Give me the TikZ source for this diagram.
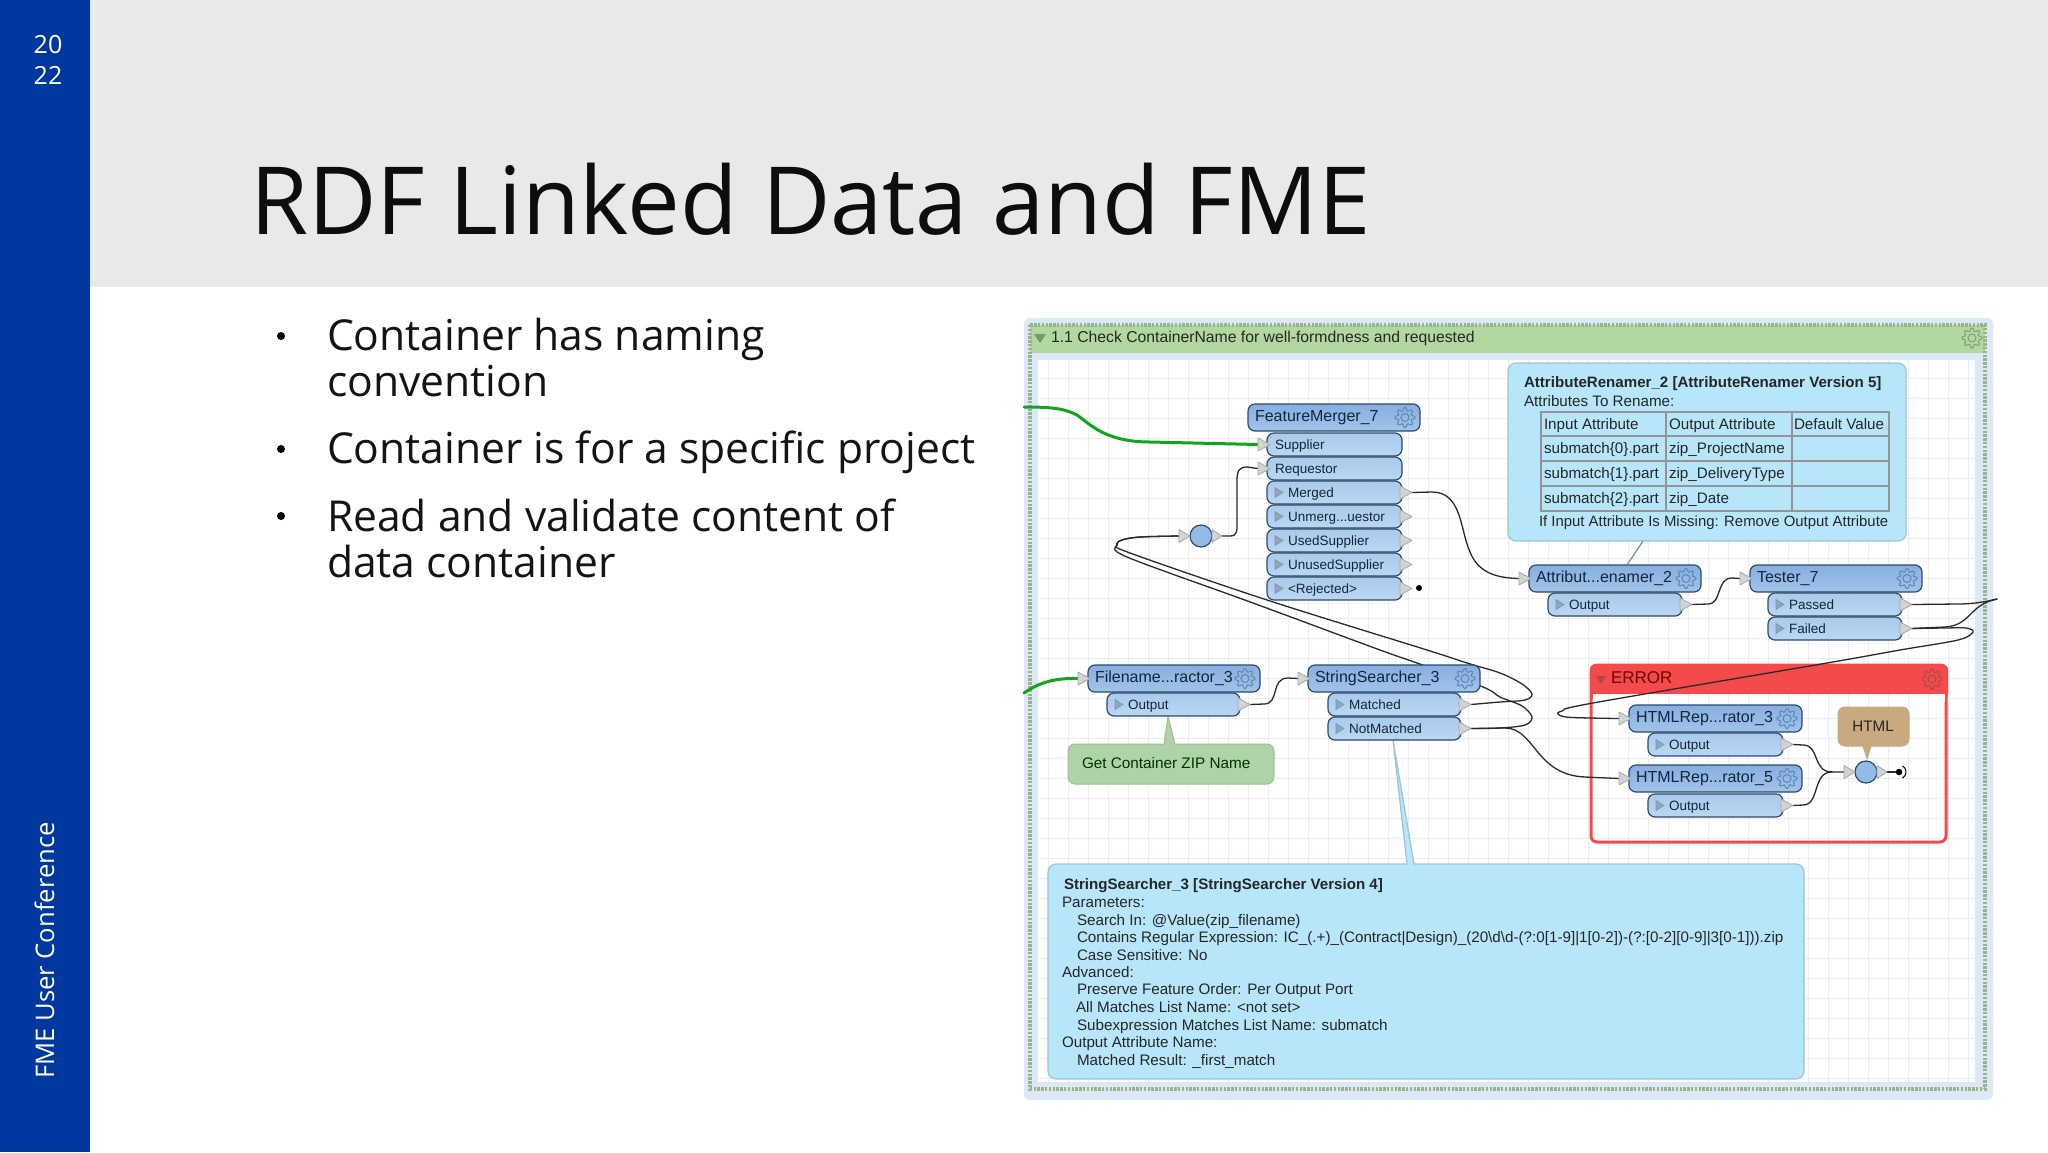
\documentclass[tikz,border=0pt]{standalone}
\usepackage{fontspec}
\setmainfont{Open Sans}
\newfontfamily\arial{Liberation Sans}
\pgfdeclarelayer{panel}
\pgfdeclarelayer{wires}
\pgfsetlayers{panel,wires,main}
\definecolor{sidebar}{HTML}{0038A0}
\definecolor{headgrey}{HTML}{E8E9E8}
\definecolor{panelblue}{HTML}{DCE8F6}
\definecolor{dotgreen}{HTML}{97B58A}
\definecolor{headgreen}{HTML}{B2D8A0}
\definecolor{gridc}{HTML}{EBECEF}
\definecolor{annblue}{HTML}{B7E6FB}
\definecolor{annline}{HTML}{9CC4D6}
\definecolor{notegreen}{HTML}{B0D2A8}
\definecolor{notegreenl}{HTML}{9DBF95}
\definecolor{notetan}{HTML}{C9A97F}
\definecolor{errred}{HTML}{F44A4C}
\definecolor{xfline}{HTML}{2C4A6B}
\definecolor{wirec}{HTML}{2A2A2A}
\definecolor{wiregreen}{HTML}{12A51C}
\definecolor{txtdark}{HTML}{12263C}
\definecolor{hdtop}{HTML}{86AEDF}
\definecolor{hdbot}{HTML}{A2C4EA}
\definecolor{prttop}{HTML}{A9CAEC}
\definecolor{prtbot}{HTML}{BAD6F3}
\definecolor{jfill}{HTML}{92BBE8}
\definecolor{gearblue}{HTML}{5F86B3}
\definecolor{geargreen}{HTML}{7F9F78}
\definecolor{gearred}{HTML}{A84A4A}
\definecolor{triline}{HTML}{A5A9A9}
\definecolor{trifill}{HTML}{D0D4D4}
\definecolor{iconline}{HTML}{7E97B0}
\definecolor{iconfill}{HTML}{8FA6BC}
\definecolor{bmgreen}{HTML}{6D9A70}
\tikzset{
  x=1pt,y=-1pt,
  hd/.style={draw=xfline,line width=1.2,rounded corners=7,top color=hdtop,bottom color=hdbot,anchor=north west,minimum height=27,inner sep=0,outer sep=0},
  prt/.style={draw=xfline,line width=1.2,rounded corners=7,top color=prttop,bottom color=prtbot,anchor=north west,minimum height=23,inner sep=0,outer sep=0},
  hdtxt/.style={inner sep=0,outer sep=0,anchor=base west,text=txtdark,font=\arial\fontsize{16}{18}\selectfont},
  prttxt/.style={inner sep=0,outer sep=0,anchor=base west,text=txtdark,font=\arial\fontsize{13.5}{16}\selectfont},
  ann/.style={inner sep=0,outer sep=0,anchor=base west,text=black!85,font=\arial\fontsize{15.2}{17}\selectfont},
  annb/.style={ann,font=\arial\bfseries\fontsize{15.1}{17}\selectfont},
  tri/.style={draw=triline,fill=trifill,line width=.8,line join=round},
  icon/.style={draw=iconline,fill=iconfill,line width=.6},
  wire/.style={draw=wirec,line width=1.3,line cap=round,line join=round},
  gwire/.style={draw=wiregreen,line width=3,line cap=round},
  jn/.style={circle,draw=xfline,line width=1.2,fill=jfill,minimum size=22,inner sep=0,outer sep=0},
  bullettxt/.style={inner sep=0,outer sep=0,anchor=base west,text=black!92,font=\fontsize{42.6}{46}\selectfont},
  pics/gear/.style={code={
    \draw[#1,line width=1] plot[domain=0:360,samples=97,smooth,variable=\t] ({\t}:{8.4+1.6*cos(8*\t)}) -- cycle;
    \draw[#1,line width=1] (0,0) circle[radius=4];
  }},
}
% name,x,y,width,text
\newcommand\xfhead[5]{%
  \node[hd,minimum width=#4] (#1) at (#2,#3) {};
  \node[hdtxt] (#1t) at ([xshift=7,yshift=-4]#1.west) {#5};
  \pic at ([xshift=-15]#1.east) {gear=gearblue};
}
\newcommand\xfheadin[5]{%
  \xfhead{#1}{#2}{#3}{#4}{#5}%
  \coordinate (#1in) at ([xshift=-10]#1.west);
  \draw[tri] ([xshift=-10,yshift=6.5]#1.west) -- ([xshift=2]#1.west) -- ([xshift=-10,yshift=-6.5]#1.west) -- cycle;
}
\newcommand\xfport[5]{%
  \node[prt,minimum width=#4] (#1) at (#2,#3) {};
  \node[prttxt] (#1t) at ([xshift=21,yshift=-5]#1.west) {#5};
  \draw[icon] ([xshift=8,yshift=5]#1.west) -- ([xshift=16]#1.west) -- ([xshift=8,yshift=-5]#1.west) -- cycle;
  \coordinate (#1o) at ([xshift=10]#1.east);
  \draw[tri] ([xshift=-2,yshift=6.5]#1.east) -- ([xshift=10]#1.east) -- ([xshift=-2,yshift=-6.5]#1.east) -- cycle;
}
\newcommand\xfinput[5]{%
  \node[prt,minimum width=#4] (#1) at (#2,#3) {};
  \node[prttxt] (#1t) at ([xshift=8,yshift=-5]#1.west) {#5};
  \coordinate (#1in) at ([xshift=-9]#1.west);
  \draw[tri] ([xshift=-9,yshift=6.5]#1.west) -- ([xshift=3]#1.west) -- ([xshift=-9,yshift=-6.5]#1.west) -- cycle;
}
\begin{document}
\begin{tikzpicture}
\useasboundingbox (0,0) rectangle (2048,1152);
\begin{pgfonlayer}{panel}
  \fill[white] (0,0) rectangle (2048,1152);
  \fill[headgrey] (90,0) rectangle (2048,287);
  \fill[sidebar] (0,0) rectangle (90,1152);
  % panel
  \fill[panelblue,rounded corners=6] (1024,318) rectangle (1993,1100);
  \fill[white] (1038,360) rectangle (1975,1082);
  \foreach \gx in {0,...,46} \draw[gridc,line width=1] (1048+20*\gx,360) -- (1048+20*\gx,1082);
  \foreach \gy in {0,...,35} \draw[gridc,line width=1] (1038,378+20*\gy) -- (1975,378+20*\gy);
  \fill[headgreen] (1030,325) rectangle (1985,353);
  \draw[dotgreen,line width=3.6,dash pattern=on 2.4 off 1.4] (1030,325) rectangle (1985,1089);
  % error bookmark
  \draw[errred,line width=3,rounded corners=6] (1591,665) rectangle (1946,842);
  \fill[errred,rounded corners=6] (1590,664) -- (1948,664) -- (1948,700) -- (1590,700) -- cycle;
  \fill[white] (1593,694) rectangle (1945,702);
  \foreach \gx in {28,...,44} \draw[gridc,line width=1] (1048+20*\gx,694) -- (1048+20*\gx,702);
\end{pgfonlayer}

% slide texts
\node[inner sep=0,anchor=base,text=white,font=\fontsize{25}{30}\selectfont] (yr1) at (48,53) {20};
\node[inner sep=0,anchor=base,text=white,font=\fontsize{25}{30}\selectfont] (yr2) at (48,84) {22};
\node[inner sep=0,anchor=base west,rotate=90,text=white,font=\fontsize{25.6}{30}\selectfont] (conf) at (54,1079) {FME User Conference};
\node[inner sep=0,outer sep=0,anchor=base west,text=black!95,font=\fontsize{94}{110}\selectfont] (title) at (250,234) {RDF Linked Data and FME};
\node[bullettxt] (b1a) at (327,350) {Container has naming};
\node[bullettxt] (b1b) at (327,396) {convention};
\node[bullettxt] (b2) at (327,463) {Container is for a specific project};
\node[bullettxt] (b3a) at (327,531) {Read and validate content of};
\node[bullettxt] (b3b) at (327,577) {data container};
\foreach \by in {336,449,516} \fill[black] (281,\by) circle[radius=4];

% green header
\fill[bmgreen] (1034,334) -- (1046,334) -- (1040,343) -- cycle;
\node[ann,font=\arial\fontsize{15.75}{18}\selectfont,text=black!85] (ptitle) at (1051,342) {1.1 Check ContainerName for well-formdness and requested};
\pic at (1972,338) {gear=geargreen};

% error header
\fill[gearred] (1596,676) -- (1606,676) -- (1601,684) -- cycle;
\node[ann,font=\arial\fontsize{17}{18}\selectfont,text=black!55!red] (errt) at (1611,683) {ERROR};
\pic at (1932,679) {gear=gearred};

% annotation: AttributeRenamer
\draw[annline,line width=1.2,fill=annblue,rounded corners=8] (1508,363) rectangle (1906,541);
\node[annb] (a1) at (1524,387) {AttributeRenamer\_2 [AttributeRenamer Version 5]};
\node[ann] (a2) at (1524,406) {Attributes To Rename:};
\draw[black!42,line width=1.3] (1541,412) rectangle (1889,511)
  (1666,412) -- (1666,511) (1792,412) -- (1792,511)
  (1541,436) -- (1889,436) (1541,461) -- (1889,461) (1541,486) -- (1889,486);
\node[ann] (c11) at (1544,429) {Input Attribute};
\node[ann] (c12) at (1669,429) {Output Attribute};
\node[ann] (c13) at (1794,429) {Default Value};
\node[ann] (c21) at (1544,453) {submatch\{0\}.part};
\node[ann] (c22) at (1669,453) {zip\_ProjectName};
\node[ann] (c31) at (1544,478) {submatch\{1\}.part};
\node[ann] (c32) at (1669,478) {zip\_DeliveryType};
\node[ann] (c41) at (1544,503) {submatch\{2\}.part};
\node[ann] (c42) at (1669,503) {zip\_Date};
\node[ann,font=\arial\fontsize{14.9}{17}\selectfont] (a3) at (1539,526) {If Input Attribute Is Missing: Remove Output Attribute};

% annotation: StringSearcher
\draw[annline,line width=1.2,fill=annblue,rounded corners=8] (1048,864) rectangle (1804,1079);
\fill[annblue] (1393,740) -- (1407,866) -- (1414,866) -- cycle;
\draw[annline,line width=1.2] (1407,864) -- (1393,740) -- (1414,864);
\node[annb] (s0) at (1064,889) {StringSearcher\_3 [StringSearcher Version 4]};
\node[ann] (s1) at (1062,907) {Parameters:};
\node[ann] (s2) at (1077,925) {Search In: @Value(zip\_filename)};
\node[ann] (s3) at (1077,942) {Contains Regular Expression: IC\_(.+)\_(Contract|Design)\_(20\textbackslash d\textbackslash d-(?:0[1-9]|1[0-2])-(?:[0-2][0-9]|3[0-1])).zip};
\node[ann] (s4) at (1077,960) {Case Sensitive: No};
\node[ann] (s5) at (1062,977) {Advanced:};
\node[ann] (s6) at (1077,994) {Preserve Feature Order: Per Output Port};
\node[ann] (s7) at (1076,1012) {All Matches List Name: <not set>};
\node[ann] (s8) at (1077,1030) {Subexpression Matches List Name: submatch};
\node[ann] (s9) at (1062,1047) {Output Attribute Name:};
\node[ann] (s10) at (1077,1065) {Matched Result: \_first\_match};

% green note
\draw[notegreenl,line width=1,fill=notegreen,rounded corners=7] (1068,744) rectangle (1274,784);
\fill[notegreen] (1168,716) -- (1164,745) -- (1175,745) -- cycle;
\draw[notegreenl,line width=1] (1164,744) -- (1168,716) -- (1175,744);
\node[ann,font=\arial\fontsize{15.3}{17}\selectfont,text=black!80!green] (gn) at (1082,768) {Get Container ZIP Name};

% tan note
\draw[notetan,line width=1,fill=notetan,rounded corners=7] (1838,707) rectangle (1909,746);
\fill[notetan] (1867,760) -- (1862,745) -- (1872,745) -- cycle;
\node[ann,anchor=base,text=black!85] (tn) at (1873,731) {HTML};

% FeatureMerger_7
\xfhead{fm}{1248}{404}{172}{FeatureMerger\_7}
\xfinput{sup}{1267}{433}{135}{Supplier}
\xfinput{req}{1267}{457}{135}{Requestor}
\xfport{mrg}{1267}{481}{135}{Merged}
\xfport{unm}{1267}{505}{135}{Unmerg...uestor}
\xfport{use}{1267}{529}{135}{UsedSupplier}
\xfport{unu}{1267}{553}{135}{UnusedSupplier}
\xfport{rej}{1267}{577}{135}{<Rejected>}
\node[circle,fill=black,minimum size=6,inner sep=0] (rejdot) at (1419,588) {};

% junction 1
\node[jn] (j1) at (1201,536) {};
\draw[tri] (1179,529.5) -- (1190,536) -- (1179,542.5) -- cycle;
\draw[tri] (1212,529.5) -- (1222,536) -- (1212,542.5) -- cycle;
\coordinate (j1in) at (1180,536);
\coordinate (j1o) at (1222,536);

% AttributeRenamer
\xfheadin{ar}{1529}{565}{172}{Attribut...enamer\_2}
\xfport{aro}{1548}{593}{134}{Output}
\draw[annline!70!black,line width=1.2] (1643,541) -- (1627,565);

% Tester
\xfheadin{ts}{1750}{565}{172}{Tester\_7}
\xfport{pas}{1768}{593}{134}{Passed}
\xfport{fai}{1768}{617}{134}{Failed}

% FilenamePartExtractor
\xfheadin{fx}{1088}{665}{172}{Filename...ractor\_3}
\xfport{fxo}{1107}{693}{133}{Output}

% StringSearcher
\xfheadin{ss}{1308}{665}{172}{StringSearcher\_3}
\xfport{mat}{1328}{693}{133}{Matched}
\xfport{nom}{1328}{717}{133}{NotMatched}

% HTML reports
\xfheadin{ha}{1629}{705}{173}{HTMLRep...rator\_3}
\xfport{hao}{1648}{733}{135}{Output}
\xfheadin{hb}{1629}{765}{173}{HTMLRep...rator\_5}
\xfport{hbo}{1648}{794}{135}{Output}

% junction 2
\node[jn] (j2) at (1866,772) {};
\draw[tri] (1844,765.5) -- (1855,772) -- (1844,778.5) -- cycle;
\draw[tri] (1877,765.5) -- (1887,772) -- (1877,778.5) -- cycle;
\coordinate (j2in) at (1844,772);
\coordinate (j2o) at (1887,772);
\node[circle,fill=black,minimum size=6.5,inner sep=0] (term) at (1899,772) {};
\draw[black,line width=1] ([shift={(-60:7)}]term.center) arc[start angle=-60,end angle=60,radius=7];

% free ends
\coordinate (gA) at (1024,407);
\coordinate (gB) at (1024,693);
\coordinate (exitR) at (1997,599);

\begin{pgfonlayer}{wires}
  \draw[gwire] (gA) .. controls (1055,407) and (1065,409) .. (1077,415) .. controls (1090,424) and (1105,442) .. (1150,442) -- (supin);
  \draw[gwire] (gB) .. controls (1040,682) and (1055,678) .. (fxin);
  \draw[wire] (j1o) -- (1230,536) .. controls (1238,536) and (1237,530) .. (1237,520) -- (1237,480) .. controls (1237,470) and (1240,467) .. (1247,467) -- (reqin);
  \draw[wire] (mrgo) -- (1432,492) .. controls (1462,492) and (1460,530) .. (1470,552) .. controls (1478,572) and (1495,578) .. (arin);
  \draw[wire] (aroo) -- (1708,604) .. controls (1722,604) and (1716,578) .. (1732,578) -- (tsin);
  \draw[wire] (fxoo) -- (1264,704) .. controls (1280,704) and (1270,678) .. (1288,678) -- (ssin);
  % long loops
  \draw[wire] plot[smooth,tension=.55] coordinates {(mato) (1500,702) (1525,700) (1532,694) (1522,684) (1500,673) (1467,663) (1427,650) (1267,600) (1130,553) (1117,545) (1122,540) (1140,537) (j1in)};
  \draw[wire] plot[smooth,tension=.55] coordinates {(nomo) (1500,728) (1525,725) (1532,717) (1522,706) (1500,697) (1483,687) (1417,663) (1380,650) (1253,603) (1127,557) (1117,545) (1122,540) (1140,537) (j1in)};
  \draw[wire] (nomo) -- (1505,728) .. controls (1535,728) and (1535,775) .. (1585,777) -- (hbin);
  \draw[wire] plot[smooth,tension=.55] coordinates {(faio) (1945,628) (1966,628) (1973,632) (1958,640) (1900,650) (1827,663) (1593,703) (1562,711) (1558,714) (1566,717) (1590,718) (hain)};
  \draw[wire] (paso) -- (1958,604) .. controls (1972,604) and (1985,602) .. (exitR);
  \draw[wire] (faio) -- (1945,627) .. controls (1972,625) and (1968,605) .. (exitR);
  \draw[wire] (haoo) -- (1803,745) .. controls (1820,745) and (1812,772) .. (1832,772) -- (j2in);
  \draw[wire] (hboo) -- (1803,805) .. controls (1820,805) and (1812,772) .. (1832,772);
  \draw[wire] (j2o) -- (term);
\end{pgfonlayer}
\end{tikzpicture}
\end{document}
